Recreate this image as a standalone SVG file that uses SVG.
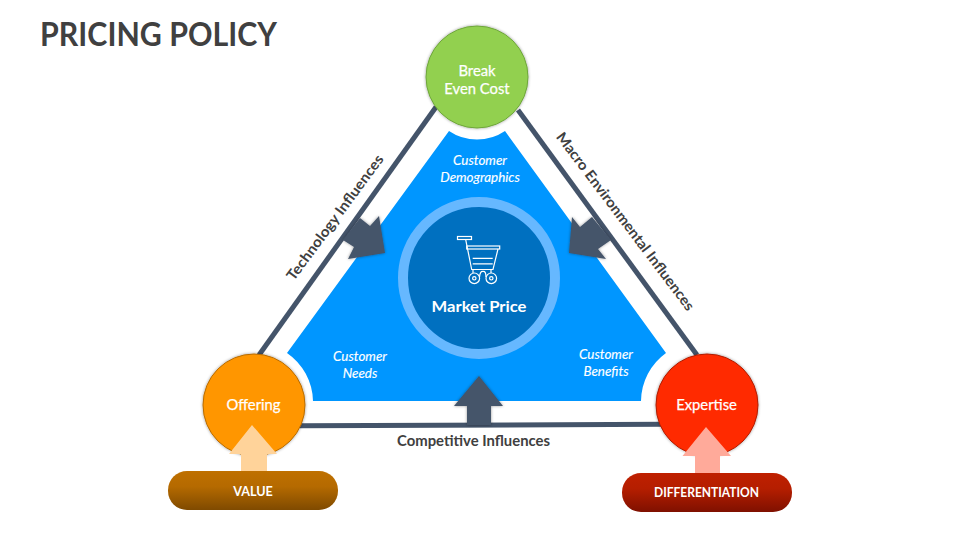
<svg xmlns="http://www.w3.org/2000/svg" width="960" height="540" viewBox="0 0 960 540">
<style>
text{font-family:"Lato","Carlito","Open Sans",sans-serif;text-anchor:middle}
.title{font-size:32.5px;font-weight:700;fill:#404040;text-anchor:start}
.node{font-size:14.8px;fill:#fff;stroke:#fff;stroke-width:.25}
.cust{font-size:13.4px;font-style:italic;fill:#fff;stroke:#fff;stroke-width:.15}
.conn{font-size:14.4px;font-weight:700;fill:#404040}
.pill{font-size:12.6px;font-weight:700;fill:#fff}
.line{stroke:#44546a;stroke-width:5;fill:none}
.block{fill:#44546a;filter:url(#sh)}
.cart{fill:none;stroke:#fff;stroke-width:1.2}
</style>
<defs>
<filter id="sh" x="-20%" y="-20%" width="140%" height="140%"><feDropShadow dx="0" dy="0" stdDeviation="1.6" flood-color="#000" flood-opacity="0.4"/></filter>
<linearGradient id="gv" x1="0" y1="0" x2="0" y2="1"><stop offset="0" stop-color="#bf7000"/><stop offset="0.4" stop-color="#b56a00"/><stop offset="1" stop-color="#7f4a00"/></linearGradient>
<linearGradient id="gd" x1="0" y1="0" x2="0" y2="1"><stop offset="0" stop-color="#bf2000"/><stop offset="0.4" stop-color="#b51e00"/><stop offset="1" stop-color="#7f1000"/></linearGradient>
</defs>
<rect width="960" height="540" fill="#fff"/>
<text class="title" x="40" y="46" textLength="237" lengthAdjust="spacingAndGlyphs">PRICING POLICY</text>
<g id="triangle"><path d="M449,131 A50,50 0 0 0 505,131 L666,353 A60,60 0 0 0 641,401 L313,401 A60,60 0 0 0 287,353 Z" fill="#0096ff"/>
<text class="cust" x="480" y="165">Customer</text><text class="cust" x="480" y="182">Demographics</text>
<text class="cust" x="360" y="361">Customer</text><text class="cust" x="360" y="378">Needs</text>
<text class="cust" x="606" y="359">Customer</text><text class="cust" x="606" y="376">Benefits</text></g>
<g id="connectors">
<path class="line" d="M436,107 L259,355"/>
<path class="line" d="M518,110 L697,355"/>
<path class="line" d="M300,425.7 L663,424.3"/>
<path class="block" d="M360,218 L370,226 L379,216 L385,253 L348,259 L354,247 L343,240 Z"/>
<path class="block" d="M592,217 L580,227 L572,217 L569,253 L606,259 L598,249 L611,240 Z"/>
<path class="block" d="M467,425 L467,406 L454,406 L479,376 L503,406 L491,406 L491,425 Z"/>
<text class="conn" transform="translate(339,220.5) rotate(-53.5)" x="0" y="0" textLength="152" lengthAdjust="spacingAndGlyphs">Technology Influences</text>
<text class="conn" transform="translate(621.5,224.5) rotate(53)" x="0" y="0" textLength="219" lengthAdjust="spacingAndGlyphs">Macro Environmental Influences</text>
<text class="conn" x="473.5" y="446" textLength="153" lengthAdjust="spacingAndGlyphs">Competitive Influences</text>
</g>
<g id="market-price">
<circle cx="479" cy="278" r="76" fill="#0070c0" stroke="#66b8ff" stroke-width="10"/>
<g class="cart">
<rect x="457.5" y="236.5" width="14" height="3"/>
<path d="M465.7,239.7 L471.7,269.5 L493,269.5 L498,249"/>
<rect x="466.7" y="246" width="33" height="3"/>
<path d="M472.7,258.3 H492.7 M472.7,263.8 H492.7"/>
<path d="M473,269.5 L473,273 M479.5,277 Q480,271 483,271.5 Q486,271 486,277 M491,269.5 L491,273"/>
<circle cx="474.3" cy="278.3" r="5.3"/><circle cx="474.3" cy="278.3" r="1.7"/>
<circle cx="491.3" cy="278.3" r="5.3"/><circle cx="491.3" cy="278.3" r="1.7"/>
</g>
<text x="479" y="312" style="font-size:16px;font-weight:700;fill:#fff" textLength="95" lengthAdjust="spacingAndGlyphs">Market Price</text>
</g>
<g id="break-even"><circle cx="477" cy="77" r="51" fill="#92d050" stroke="#6ea63a" filter="url(#sh)"/>
<text class="node" x="477" y="75.5">Break</text><text class="node" x="477" y="93.5">Even Cost</text></g>
<g id="offering"><circle cx="254" cy="405" r="51" fill="#ff9600" stroke="#b86c00" filter="url(#sh)"/>
<text class="node" x="253.5" y="410">Offering</text></g>
<g id="expertise"><circle cx="707" cy="405" r="51" fill="#ff2a00" stroke="#b01e00" filter="url(#sh)"/>
<text class="node" x="706.5" y="410">Expertise</text></g>
<g id="value">
<path d="M241,472 V454 H229 L252,425 L277,454 H267 V472 Z" fill="#ffd39a"/>
<rect x="168" y="471" width="170" height="39" rx="19" fill="url(#gv)"/>
<text class="pill" x="253" y="495.5">VALUE</text></g>
<g id="differentiation">
<path d="M695,474 V456 H682.5 L706,427 L731,456 H720 V474 Z" fill="#ffaa9a"/>
<rect x="622" y="473" width="170" height="39" rx="19" fill="url(#gd)"/>
<text class="pill" x="706.5" y="497" textLength="105" lengthAdjust="spacingAndGlyphs">DIFFERENTIATION</text></g>
</svg>
